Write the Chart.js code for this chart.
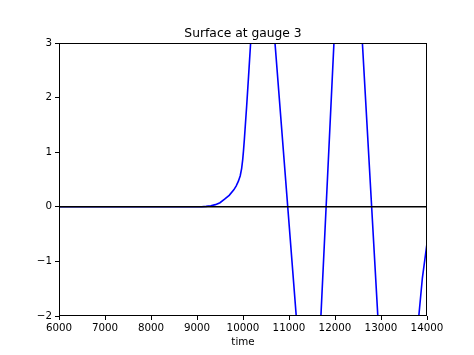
<!DOCTYPE html>
<html>
<head>
<meta charset="utf-8">
<script src="https://cdn.jsdelivr.net/npm/chart.js@4/dist/chart.umd.min.js"></script>
<style>
html,body{margin:0;padding:0;background:#fff;}
#wrap{width:474px;height:355px;position:relative;}
</style>
</head>
<body>
<div id="wrap"><canvas id="c" width="474" height="355"></canvas></div>
<script>
// Data
const times   = [6000, 6500, 7000, 7500, 8000, 8500, 9000, 9100, 9200, 9300, 9400, 9500, 9600, 9700, 9800, 9850, 9900, 9940, 9970, 9993, 10010, 10030, 10080, 10120, 10400, 11490, 12260, 13300, 13800, 13900, 14000];
const surface = [0, 0, 0, 0, 0, 0, 0, 0.002, 0.008, 0.02, 0.04, 0.075, 0.14, 0.21, 0.31, 0.38, 0.47, 0.57, 0.7, 0.86, 1.02, 1.24, 1.85, 2.38, 6.2, -5.6, 8.0, -7.5, -2.2, -1.3, -0.67];
const zeroTimes = [6000, 14000];
const zeroVals  = [0, 0];
const xTicks = [6000, 7000, 8000, 9000, 10000, 11000, 12000, 13000, 14000];
const yTicks = [-2, -1, 0, 1, 2, 3];
const titleText = 'Surface at gauge 3';
const xLabel = 'time';

const FONT = '"DejaVu Sans", sans-serif';
const L = 59, R = 427, T = 43, B = 316;

const framePlugin = {
  id: 'frame',
  afterDatasetsDraw(chart) {
    const {ctx, chartArea: a} = chart;
    ctx.save();
    ctx.strokeStyle = '#000';
    ctx.lineWidth = 1;
    ctx.strokeRect(Math.round(a.left) + 0.5, Math.round(a.top) + 0.5, Math.round(a.right - a.left) - 1, Math.round(a.bottom - a.top) - 1);
    ctx.restore();
  },
  afterDraw(chart) {
    const {ctx, chartArea: a} = chart;
    ctx.save();
    ctx.fillStyle = '#000';
    ctx.font = '12.3px ' + FONT;
    ctx.textAlign = 'center';
    ctx.textBaseline = 'alphabetic';
    ctx.fillText(titleText, (a.left + a.right) / 2, 37);
    ctx.restore();
  }
};

new Chart(document.getElementById('c'), {
  type: 'scatter',
  data: {
    datasets: [
      {
        data: zeroTimes.map((t, i) => ({x: t, y: zeroVals[i]})),
        showLine: true, borderColor: '#000', borderWidth: 1.6,
        pointRadius: 0, order: 0, clip: 0
      },
      {
        data: times.map((t, i) => ({x: t, y: surface[i]})),
        showLine: true, borderColor: '#0000ff', borderWidth: 1.6,
        pointRadius: 0, tension: 0, order: 1, clip: 0
      }
    ]
  },
  options: {
    responsive: false,
    animation: false,
    devicePixelRatio: 1,
    layout: {padding: {left: 0, right: 474 - R, top: T, bottom: 0}},
    plugins: {legend: {display: false}, tooltip: {enabled: false}, title: {display: false}},
    scales: {
      x: {
        type: 'linear', min: 6000, max: 14000,
        afterBuildTicks(s) { s.ticks = xTicks.map(v => ({value: v})); },
        afterFit(s) { s.height = 355 - B; },
        grid: {drawOnChartArea: false, tickLength: 4, color: '#000', tickColor: '#000'},
        border: {display: false},
        ticks: {color: '#000', font: {family: FONT, size: 10.3}, padding: 2, maxRotation: 0, autoSkip: false,
                callback: v => String(v)},
        title: {display: true, text: xLabel, color: '#000', font: {family: FONT, size: 10.3}, padding: {top: 0, bottom: 6}}
      },
      y: {
        type: 'linear', min: -2, max: 3,
        afterBuildTicks(s) { s.ticks = yTicks.map(v => ({value: v})); },
        afterFit(s) { s.width = L; },
        grid: {drawOnChartArea: false, tickLength: 4, color: '#000', tickColor: '#000'},
        border: {display: false},
        ticks: {color: '#000', font: {family: FONT, size: 10.3}, padding: 3, autoSkip: false,
                callback: v => String(v).replace('-', '\u2212')}
      }
    }
  },
  plugins: [framePlugin]
});
</script>
</body>
</html>
